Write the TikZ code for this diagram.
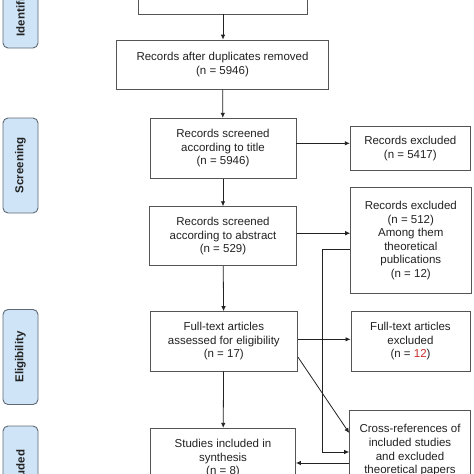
\documentclass[tikz,border=0pt]{standalone}
\usepackage{fontspec}
\setmainfont{Liberation Sans}
\usetikzlibrary{arrows.meta}
\definecolor{phasefill}{RGB}{207,228,247}
\definecolor{phaseline}{RGB}{95,105,115}
\definecolor{boxline}{RGB}{85,85,85}
\definecolor{ink}{RGB}{34,34,34}
\definecolor{numred}{RGB}{205,45,45}
\begin{document}
\begin{tikzpicture}[
                x=1pt, y=-1pt,
                every node/.style={text=ink, font=\fontsize{11.5}{13.6}\selectfont, align=center, inner sep=0pt},
                box/.style={draw=boxline, line width=0.9pt},
                phase/.style={draw=phaseline, fill=phasefill, rounded corners=5pt, line width=0.9pt,
                    rotate=90, minimum width=95pt, minimum height=35pt, font=\fontsize{11.5}{13.6}\selectfont\bfseries},
                arr/.style={draw=ink, line width=0.8pt, -{Latex[length=5pt,width=4.5pt]}},
            ]
            \useasboundingbox (0,0) rectangle (474,474);
            \fill[white] (0,0) rectangle (474,474);
            \clip (0,0) rectangle (474,474);
            % phases
            \node[phase] (ident) at (20.5,0.5) {Identification};
            \node[phase] (screen) at (20.5,165.5) {Screening};
            \node[phase] (elig) at (20.5,357) {Eligibility};
            \node[phase] (incl) at (20.5,473.5) {Included};
            % main column
            \node[box, minimum width=169pt, minimum height=50pt] (ident box) at (223,-11) {};
            \node[box, minimum width=211.6pt, minimum height=49.3pt] (dup) at (222.5,64.7)
                {Records after duplicates removed\\(n = 5946)};
            \node[box, minimum width=146pt, minimum height=60pt] (title) at (223,148.3)
                {Records screened\\according to title\\(n = 5946)};
            \node[box, minimum width=147pt, minimum height=59pt] (abstr) at (223,236.2)
                {Records screened\\according to abstract\\(n = 529)};
            \node[box, minimum width=147.7pt, minimum height=59.3pt] (full) at (223.8,341.3)
                {Full-text articles\\assessed for eligibility\\(n = 17)};
            \node[box, minimum width=145pt, minimum height=60pt] (synth) at (223,458.3)
                {Studies included in\\synthesis\\(n = 8)};
            % right column
            \node[box, minimum width=120pt, minimum height=44pt] (excl title) at (410.3,148.7)
                {Records excluded\\(n = 5417)};
            \node[box, minimum width=120.3pt, minimum height=105.6pt] (excl abstr) at (410.8,240.5)
                {Records excluded\\(n = 512)\\Among them\\theoretical\\publications\\(n = 12)};
            \node[box, minimum width=119pt, minimum height=59.3pt] (excl full) at (410.5,341.3)
                {Full-text articles\\excluded\\(n = \textcolor{numred}{12})};
            \node[box, minimum width=120.7pt, minimum height=96pt] (cross) at (410,458)
                {Cross-references of\\included studies\\and excluded\\theoretical papers\\\strut};
            % connectors
            \draw[arr] (ident box) -- (ident box |- dup.north);
            \draw[arr] (dup) -- (title);
            \draw[arr] (title) -- (abstr);
            \draw[arr] (abstr) -- (full);
            \draw[arr] (full) -- (synth);
            \draw[arr] ([yshift=5pt]title.east) -- ([yshift=5pt]title.east -| excl title.west);
            \draw[arr] ([yshift=3pt]abstr.east) -- ([yshift=3pt]abstr.east -| excl abstr.west);
            \draw[arr] ([yshift=2pt]full.east) -- ([yshift=2pt]full.east -| excl full.west);
            \draw[arr] ([yshift=-8.5pt]excl abstr.west) -- ++(-27.5,0) |- ([yshift=6pt]cross.west);
            \draw[arr] ([yshift=-16pt]full.east) -- ([yshift=25pt]cross.west);
            \draw[arr] ([yshift=-5pt]cross.west) -- ([yshift=-5pt]cross.west -| synth.east);
            \end{tikzpicture}
\end{document}
